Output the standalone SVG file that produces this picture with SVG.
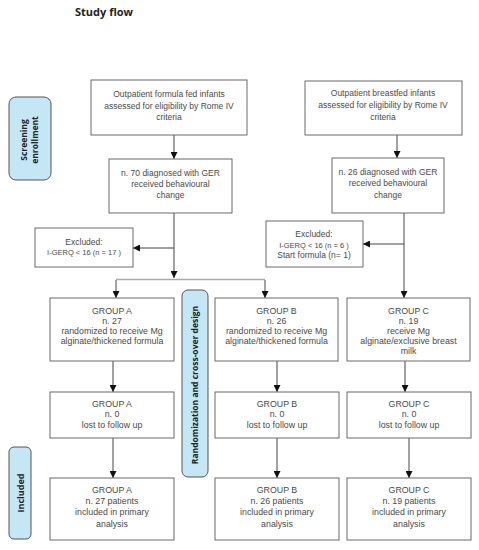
<svg xmlns="http://www.w3.org/2000/svg" width="479" height="550" viewBox="0 0 479 550">
<style>
.box{fill:#fff;stroke:#6a6a6a;stroke-width:1}
.lab{fill:#c4e6f5;stroke:#555;stroke-width:1}
.t{font-family:"Liberation Sans",Arial,sans-serif;font-size:8.5px;fill:#4a4a4a;text-anchor:middle}
.g{font-family:"Liberation Sans",Arial,sans-serif;font-size:8.8px;fill:#4a4a4a;text-anchor:middle}
.ts{font-family:"Liberation Sans",Arial,sans-serif;font-size:7.5px;fill:#4a4a4a;text-anchor:middle}
.lt{font-family:"Open Sans","Liberation Sans",sans-serif;font-size:8.5px;font-weight:bold;fill:#222;text-anchor:middle}
.title{font-family:"Open Sans","Liberation Sans",sans-serif;font-size:11px;font-weight:bold;fill:#222}
.c{stroke:#444;stroke-width:1;fill:none}
</style>
<defs>
<marker id="ah" markerUnits="userSpaceOnUse" markerWidth="7" markerHeight="7" refX="7" refY="3.5" orient="auto">
<path d="M0,0 L7,3.5 L0,7 z" fill="#111"/>
</marker>
</defs>
<rect width="479" height="550" fill="#fff"/>
<text class="title" x="75" y="16">Study flow</text>

<g id="connectors">
<line class="c" x1="174" y1="135" x2="174" y2="159" marker-end="url(#ah)"/>
<line class="c" x1="397" y1="135" x2="397" y2="158" marker-end="url(#ah)"/>
<line class="c" x1="174" y1="213" x2="174" y2="278" marker-end="url(#ah)"/>
<line class="c" x1="174" y1="248" x2="133" y2="248" marker-end="url(#ah)"/>
<line class="c" x1="404" y1="213" x2="404" y2="298" marker-end="url(#ah)"/>
<line class="c" x1="404" y1="244" x2="363" y2="244" marker-end="url(#ah)"/>
<line x1="116" y1="279.5" x2="265" y2="279.5" stroke="#aaa" stroke-width="1.5"/>
<line class="c" x1="116" y1="280" x2="116" y2="298" marker-end="url(#ah)"/>
<line class="c" x1="265" y1="280" x2="265" y2="298" marker-end="url(#ah)"/>
<line class="c" x1="113" y1="361" x2="113" y2="392" marker-end="url(#ah)"/>
<line class="c" x1="277" y1="361" x2="277" y2="392" marker-end="url(#ah)"/>
<line class="c" x1="405" y1="361" x2="405" y2="392" marker-end="url(#ah)"/>
<line class="c" x1="113" y1="438" x2="113" y2="478" marker-end="url(#ah)"/>
<line class="c" x1="277" y1="438" x2="277" y2="478" marker-end="url(#ah)"/>
<line class="c" x1="409" y1="438" x2="409" y2="478" marker-end="url(#ah)"/>
</g>

<g id="label-screening">
<rect class="lab" x="9" y="97" width="42" height="83" rx="7"/>
<text class="lt" transform="translate(27,140) rotate(-90)">Screening</text>
<text class="lt" transform="translate(38,140) rotate(-90)">enrollment</text>
</g>
<g id="label-randomization">
<rect class="lab" x="182" y="290" width="26" height="187" rx="6"/>
<text class="lt" transform="translate(198,385) rotate(-90)">Randomization and cross-over design</text>
</g>
<g id="label-included">
<rect class="lab" x="9" y="447" width="22" height="92" rx="5"/>
<text class="lt" transform="translate(24,493) rotate(-90)" style="font-size:9px">Included</text>
</g>

<g id="formula-fed">
<rect class="box" x="91" y="80" width="156" height="55"/>
<text class="t" x="169" y="97">Outpatient formula fed infants</text>
<text class="t" x="169" y="109">assessed for eligibility by Rome IV</text>
<text class="t" x="169" y="120">criteria</text>
</g>
<g id="breastfed">
<rect class="box" x="305" y="81" width="157" height="54"/>
<text class="t" x="383" y="96">Outpatient breastfed infants</text>
<text class="t" x="383" y="108">assessed for eligibility by Rome IV</text>
<text class="t" x="383" y="120">criteria</text>
</g>
<g id="diag-70">
<rect class="box" x="109" y="159" width="123" height="54"/>
<text class="t" x="170.5" y="176">n. 70 diagnosed with GER</text>
<text class="t" x="170.5" y="187">received behavioural</text>
<text class="t" x="170.5" y="198">change</text>
</g>
<g id="diag-26">
<rect class="box" x="332" y="158" width="112" height="55"/>
<text class="t" x="388" y="175">n. 26 diagnosed with GER</text>
<text class="t" x="388" y="186">received behavioural</text>
<text class="t" x="388" y="198">change</text>
</g>
<g id="excluded-left">
<rect class="box" x="35" y="228" width="98" height="39"/>
<text class="t" x="84" y="245">Excluded:</text>
<text class="ts" x="84" y="255">I-GERQ &lt; 16 (n = 17 )</text>
</g>
<g id="excluded-right">
<rect class="box" x="266" y="221" width="97" height="46"/>
<text class="t" x="314" y="237">Excluded:</text>
<text class="ts" x="314" y="248">I-GERQ &lt; 16 (n = 6 )</text>
<text class="t" x="314" y="258">Start formula (n= 1)</text>
</g>

<g id="group-a1">
<rect class="box" x="50" y="298" width="124" height="63"/>
<text class="g" x="112" y="314">GROUP A</text>
<text class="g" x="112" y="324">n. 27</text>
<text class="g" x="112" y="334">randomized to receive Mg</text>
<text class="g" x="112" y="344">alginate/thickened formula</text>
</g>
<g id="group-b1">
<rect class="box" x="215" y="298" width="123" height="63"/>
<text class="g" x="276.5" y="314">GROUP B</text>
<text class="g" x="276.5" y="324">n. 26</text>
<text class="g" x="276.5" y="334">randomized to receive Mg</text>
<text class="g" x="276.5" y="344">alginate/thickened formula</text>
</g>
<g id="group-c1">
<rect class="box" x="347" y="298" width="123" height="63"/>
<text class="g" x="408.5" y="314">GROUP C</text>
<text class="g" x="408.5" y="324">n. 19</text>
<text class="g" x="408.5" y="334">receive Mg</text>
<text class="g" x="408.5" y="344">alginate/exclusive breast</text>
<text class="g" x="408.5" y="354">milk</text>
</g>

<g id="group-a2">
<rect class="box" x="50" y="392" width="124" height="46"/>
<text class="g" x="112" y="407">GROUP A</text>
<text class="g" x="112" y="417">n. 0</text>
<text class="g" x="112" y="428">lost to follow up</text>
</g>
<g id="group-b2">
<rect class="box" x="215" y="392" width="124" height="46"/>
<text class="g" x="277" y="407">GROUP B</text>
<text class="g" x="277" y="417">n. 0</text>
<text class="g" x="277" y="428">lost to follow up</text>
</g>
<g id="group-c2">
<rect class="box" x="347" y="392" width="124" height="46"/>
<text class="g" x="409" y="407">GROUP C</text>
<text class="g" x="409" y="417">n. 0</text>
<text class="g" x="409" y="428">lost to follow up</text>
</g>

<g id="group-a3">
<rect class="box" x="50" y="478" width="124" height="62"/>
<text class="g" x="112" y="493">GROUP A</text>
<text class="g" x="112" y="504">n. 27 patients</text>
<text class="g" x="112" y="515">included in primary</text>
<text class="g" x="112" y="527">analysis</text>
</g>
<g id="group-b3">
<rect class="box" x="215" y="478" width="124" height="62"/>
<text class="g" x="277" y="493">GROUP B</text>
<text class="g" x="277" y="504">n. 26 patients</text>
<text class="g" x="277" y="515">included in primary</text>
<text class="g" x="277" y="527">analysis</text>
</g>
<g id="group-c3">
<rect class="box" x="347" y="478" width="124" height="62"/>
<text class="g" x="409" y="493">GROUP C</text>
<text class="g" x="409" y="504">n. 19 patients</text>
<text class="g" x="409" y="515">included in primary</text>
<text class="g" x="409" y="527">analysis</text>
</g>
</svg>
